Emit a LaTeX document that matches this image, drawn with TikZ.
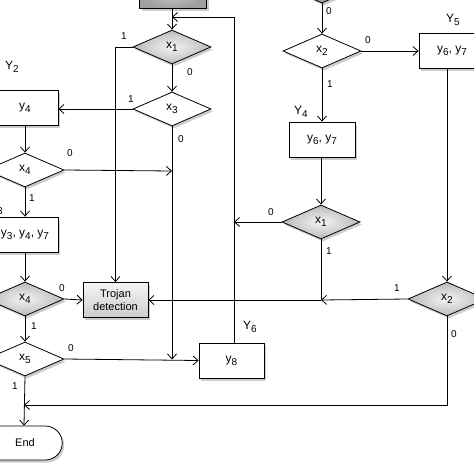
\documentclass[tikz,border=0pt]{standalone}
\usepackage{fontspec}
\setmainfont{Liberation Sans}
\usetikzlibrary{shapes.geometric,shapes.misc,shadows,arrows.meta}
\newcommand\sbs[1]{\raisebox{-0.45ex}{\fontsize{10}{11}\selectfont #1}}
\begin{document}
\begin{tikzpicture}[x=1pt,y=-1pt,
 line width=0.8pt,
 arr/.style={-{Straight Barb[length=5pt,width=9pt]}},
 shd/.style={drop shadow={opacity=0.4,shadow xshift=2pt,shadow yshift=-2.5pt}},
 box/.style={draw, fill=white, shd, minimum width=66pt, minimum height=35pt, inner sep=0pt, font=\fontsize{12}{14}\selectfont},
 dec/.style={draw, shape=diamond, aspect=2.3, minimum width=78pt, minimum height=34pt, inner sep=0pt, fill=white, shd, font=\fontsize{12}{14}\selectfont},
 gdec/.style={dec, shading=radial, inner color=gray!8, outer color=gray!55},
 lab/.style={font=\fontsize{10}{11}\selectfont, inner sep=0pt},
 ylab/.style={font=\fontsize{12}{13}\selectfont, inner sep=0pt},
]
\useasboundingbox (0,0) rectangle (474,474);
% cropped shapes at top
\node[box, shading=radial, inner color=gray!35, outer color=gray!75, minimum width=67pt, minimum height=36pt] (top) at (173,-10) {};
\node[gdec, inner color=gray!40, outer color=gray!75] (x2top) at (322,-14) {};
% left column
\node[box] (y4) at (25,107.5) {y\sbs{4}};
\node[dec] (x4) at (25,170) {x\sbs{4}};
\node[box] (y3) at (25,234.5) {y\sbs{3}, y\sbs{4}, y\sbs{7}};
\node[gdec] (x4b) at (25,299) {x\sbs{4}};
\node[dec] (x5) at (25,359) {x\sbs{5}};
\node[draw, fill=white, shd, rounded rectangle, rounded rectangle left arc=none, minimum width=76pt, minimum height=34pt, inner sep=0pt, font=\fontsize{11}{13}\selectfont] (end) at (24,443) {\hspace*{2pt}End};
% middle
\node[gdec] (x1) at (172,47) {x\sbs{1}};
\node[dec] (x3) at (172,109) {x\sbs{3}};
\node[box, minimum width=65pt, shading=axis, top color=gray!8, bottom color=gray!40, align=center, font=\fontsize{11}{13}\selectfont] (tro) at (115.5,300) {Trojan\\detection};
\node[box, minimum width=65pt] (y8) at (231.5,360.5) {y\sbs{8}};
% right
\node[dec] (x2) at (322,51) {x\sbs{2}};
\node[box] (y5) at (452,51) {y\sbs{6}, y\sbs{7}};
\node[box] (y4r) at (322,139.5) {y\sbs{6}, y\sbs{7}};
\node[gdec] (x1b) at (321,222) {x\sbs{1}};
\node[gdec] (x2b) at (447,299) {x\sbs{2}};
% state labels
\node[ylab] (Ya) at (12,67) {Y\sbs{2}};
\node[ylab] (Yb) at (-4,209) {Y\sbs{3}};
\node[ylab] (Yc) at (301,112) {Y\sbs{4}};
\node[ylab] (Yd) at (453,20) {Y\sbs{5}};
\node[ylab] (Ye) at (250,327) {Y\sbs{6}};
% coordinates
\coordinate (m1) at (172,359.5);
\coordinate (m2) at (172,171);
\coordinate (m3) at (234,17);
\coordinate (m4) at (172,17);
\coordinate (m5) at (234,222);
\coordinate (m6) at (321,300);
\coordinate (m7) at (447,405);
% connectors
\draw[arr] (top.south -| x1.north) -- (x1.north);
\draw[arr] (x1.west) -| (tro.north);
\draw[arr] (x1.south) -- (x3.north);
\draw[arr] (x3.west) -- (x3.west -| y4.east);
\draw[arr] (x3.south) -- (m1);
\draw[arr] (y4.south) -- (x4.north);
\draw[arr] (x4.east) -- (m2);
\draw[arr] (x4.south) -- (y3.north);
\draw[arr] (y3.south) -- (x4b.north);
\draw[arr] (x4b.east) -- (tro.west);
\draw[arr] (x4b.south) -- (x5.north);
\draw[arr] (x5.east) -- (y8.west);
\draw[arr] (x5.south) -- (end.north);
\draw[arr] (y8.north -| m3) -- (m3) -- (m4);
\draw[arr] (x1b.west) -- (m5);
\draw[arr] (x2top.south) -- (x2.north);
\draw[arr] (x2.east) -- (y5.west);
\draw[arr] (x2.south) -- (y4r.north);
\draw[arr] (y4r.south) -- (y4r.south -| x1b.north) -- (x1b.north);
\draw[arr] (y5.south -| x2b.north) -- (x2b.north);
\draw[arr] (x2b.west) -- (m6);
\draw (x1b.south) -- (m6);
\draw[arr] (m6) -- (tro.east);
\draw[arr] (x2b.south) -- (m7) -- (end.north |- m7);
% branch labels
\node[lab] at (124,36) {1};
\node[lab] at (190,72) {0};
\node[lab] at (131,99) {1};
\node[lab] at (181,139) {0};
\node[lab] at (70,153) {0};
\node[lab] at (32,198) {1};
\node[lab] at (62,288) {0};
\node[lab] at (34,326) {1};
\node[lab] at (71,348) {0};
\node[lab] at (15,386) {1};
\node[lab] at (329,11) {0};
\node[lab] at (368,40) {0};
\node[lab] at (330,84) {1};
\node[lab] at (271,212) {0};
\node[lab] at (329,251) {1};
\node[lab] at (397,288) {1};
\node[lab] at (454,334) {0};
\end{tikzpicture}
\end{document}
